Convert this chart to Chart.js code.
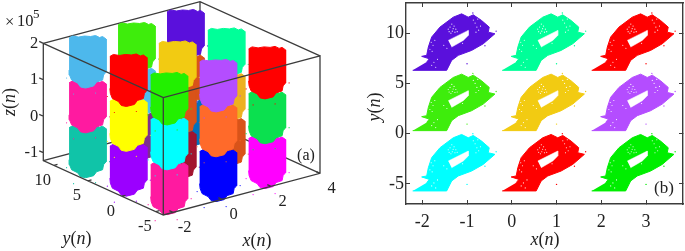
<!DOCTYPE html>
<html><head><meta charset="utf-8">
<style>
html,body{margin:0;padding:0;background:#fff;overflow:hidden}
canvas{position:absolute;top:0;filter:blur(.35px)}
#a{left:0}#b{left:345px}
</style>
<script src="https://cdn.jsdelivr.net/npm/chart.js@4/dist/chart.umd.min.js"></script>
</head><body>
<canvas id="a" width="345" height="251"></canvas>
<canvas id="b" width="340" height="251"></canvas>
<script>
// ---------- panel (b) data ----------
const xTicksB=[-2,-1,0,1,2,3];
const yTicksB=[-5,0,5,10];
const xLimB=[-2.364,3.826];
const yLimB=[-7,13];
const outlineX=[-2.215,-1.455,-1.344,-1.196,-0.898,-0.638,-0.377,-0.526,-0.504,-0.675,-0.861,-0.973,-1.121,-1.308,-1.605,-1.791,-1.865,-1.902,-2.014,-1.843,-1.902];
const outlineY=[6.30,6.30,7.29,7.79,8.28,8.94,9.94,10.1,10.6,11.26,11.82,11.59,11.92,11.59,10.6,9.61,8.61,7.79,7.69,7.45,7.12];
const holeX=[-1.419,-0.973,-0.973,-1.084,-1.344];
const holeY=[9.28,10.27,9.77,9.28,8.61];
const whiteX=[-1.42,-1.38,-1.33,-1.29,-1.25,-1.36,-1.31,-1.27,-1.40,-1.34,-1.22,-1.80,-1.76,-1.83,-1.78,-1.72,-1.74,-1.79,-1.70,-1.66,-0.82,-0.78,-0.74,-0.80,-0.70,-0.86,-0.76,-1.10,-1.52,-1.45];
const whiteY=[10.4,10.6,10.2,10.7,10.4,10.0,10.45,10.1,10.15,10.9,10.15,9.1,8.8,8.4,8.2,9.3,7.1,6.8,6.6,7.4,11.0,10.6,10.3,10.1,10.7,11.3,11.4,9.0,8.8,8.5];
const dotX=[-1.0,-0.35,-0.6,-0.87];
const dotY=[6.95,10.2,8.75,12.0];
const cellDX=[0,2,4,0,2,4,0,2,4];
const cellDY=[0,0,0,-6,-6,-6,-12,-12,-12];
const cellColors=['#5a10dc','#00ff99','#ff0000','#3eed0c','#f2cb12','#b44dff','#00ffff','#ff0000','#00ee00'];

// ---------- panel (a) data ----------
const xLimA=[-2.4,4];
const yLimA=[-6.1,11.55];
const zLimA=[-1.22,2];
const xTicksA=[-2,0,2,4];
const yTicksA=[-5,0,5,10];
const zTicksA=[-1,0,1,2];
const columnX=[2.7,0.7,-1.3];
const columnY=[9,3,-3];
const levelZ=[-0.9,0.33,1.56];
const colorsBot=['#0072bd','#7e2f8e','#10c4a8','#d95319','#a2142f','#9b00ff','#ff00ff','#0000ff','#ff1aa0'];
const colorsMid=['#d95319','#4dbeee','#ff1aa0','#edb120','#d95319','#ffff00','#0be04f','#ff6a2a','#00ffff'];
const colorsTop=['#5a10dc','#3eed0c','#4db8ec','#00ff99','#f2cb12','#ff0000','#ff0000','#b44dff','#22f000'];
const blobDX=[-18.5,-15,-9,-3,3,8,12,15,18.5,18.5,16,15,9,6,-2,-7,-10,-16,-18,-18.5];
const blobDY=[-22,-24,-23,-24,-23.5,-24.5,-22.5,-23.5,-21,12,15,20,22,26,28,27,23,20,15,10];
const speckDX=[22,-21,8,-14];
const speckDY=[12,18,33,34];

const FONT='"Liberation Serif"';
const LINE='#3c3c3c';
const W=[156.7/(xLimA[1]-xLimA[0]),-41.7/(xLimA[1]-xLimA[0])];
const V=[120/(yLimA[1]-yLimA[0]),54.3/(yLimA[1]-yLimA[0])];
const ZS=117.4/(zLimA[1]-zLimA[0]);
function proj(x,y,z){
  return {x:163.3+(x-xLimA[0])*W[0]-(y-yLimA[0])*V[0],
          y:215+(x-xLimA[0])*W[1]-(y-yLimA[0])*V[1]-(z-zLimA[0])*ZS};
}
function rich(ctx,segs,cx,cy,size,rot){
  ctx.save();ctx.translate(cx,cy);if(rot)ctx.rotate(rot);
  ctx.textBaseline='middle';ctx.textAlign='left';ctx.fillStyle='#222';
  let w=0;const fs=segs.map(s=>{const f=(s[1]?'italic ':'')+size+'px '+FONT;ctx.font=f;const m=ctx.measureText(s[0]).width;w+=m;return [s[0],f,m];});
  let p=-w/2;fs.forEach(s=>{ctx.font=s[1];ctx.fillText(s[0],p,0);p+=s[2];});
  ctx.restore();
}
const lab=c=>[[c,1],['(',0],['n',1],[')',0]];

// ---------- build panel (a) ----------
const dsA=[];let ord=1000;
const L=xLimA,Y=yLimA,Z=zLimA;
const seg=(pts)=>pts.map(p=>p===null?{x:NaN,y:NaN}:proj(p[0],p[1],p[2]));
const lineDs=(pts)=>({data:seg(pts),showLine:true,borderColor:LINE,borderWidth:1.3,pointRadius:0,spanGaps:false});
dsA.push(Object.assign(lineDs([
  [L[0],Y[1],Z[0]],[L[1],Y[1],Z[0]],[L[1],Y[0],Z[0]],null,
  [L[1],Y[1],Z[0]],[L[1],Y[1],Z[1]],null,
  [L[0],Y[1],Z[1]],[L[1],Y[1],Z[1]],[L[1],Y[0],Z[1]]
]),{order:ord--}));
const levels=[colorsBot,colorsMid,colorsTop];
columnY.forEach((yc,yi)=>columnX.forEach((xc,xi)=>levelZ.forEach((zc,zi)=>{
  const c=proj(xc,yc,zc);
  const col=levels[zi][yi*3+xi];
  dsA.push({data:speckDX.map((d,i)=>({x:c.x+d,y:c.y+speckDY[i]})),showLine:false,pointRadius:.6,pointBorderWidth:0,pointBackgroundColor:col,order:ord--});
  dsA.push({data:blobDX.map((d,i)=>({x:c.x+d,y:c.y+blobDY[i]})),showLine:true,fill:'shape',backgroundColor:col,borderColor:col,borderWidth:1,pointRadius:0,order:ord--});
})));
const tickPts=[];
xTicksA.forEach(t=>{tickPts.push([t,Y[0],Z[0]],[t,Y[0]+0.55,Z[0]],null);});
yTicksA.forEach(t=>{tickPts.push([L[0],t,Z[0]],[L[0]+0.15,t,Z[0]],null);});
zTicksA.forEach(t=>{tickPts.push([L[0],Y[1],t],[L[0],Y[1]+0.6,t],null);});
dsA.push(Object.assign(lineDs([
  [L[0],Y[1],Z[1]],[L[0],Y[1],Z[0]],[L[0],Y[0],Z[0]],[L[1],Y[0],Z[0]],[L[1],Y[0],Z[1]],[L[0],Y[0],Z[1]],[L[0],Y[1],Z[1]],null,
  [L[0],Y[0],Z[0]],[L[0],Y[0],Z[1]],null
].concat(tickPts)),{order:ord--}));

new Chart(document.getElementById('a'),{
  type:'scatter',
  data:{datasets:dsA},
  options:{responsive:false,animation:false,devicePixelRatio:1,
    layout:{padding:0,autoPadding:false},
    plugins:{legend:{display:false},tooltip:{enabled:false}},
    elements:{line:{tension:0}},
    scales:{x:{display:false,min:0,max:345},y:{display:false,min:0,max:251,reverse:true}}},
  plugins:[{id:'textA',afterDraw(ch){
    const ctx=ch.ctx,sx=ch.scales.x,sy=ch.scales.y;
    const px=(p,dx,dy)=>[sx.getPixelForValue(p.x)+dx,sy.getPixelForValue(p.y)+dy];
    ctx.save();ctx.fillStyle='#222';ctx.font='16.5px '+FONT;ctx.textBaseline='middle';ctx.textAlign='center';
    xTicksA.forEach(t=>{const q=px(proj(t,Y[0],Z[0]),11.5,15.6);ctx.fillText(String(t),q[0],q[1]);});
    yTicksA.forEach(t=>{const q=px(proj(L[0],t,Z[0]),-11,15);ctx.fillText(String(t),q[0],q[1]);});
    ctx.textAlign='right';
    zTicksA.forEach(t=>{const q=px(proj(L[0],Y[1],t),-5,0);ctx.fillText(String(t),q[0],q[1]);});
    ctx.textAlign='left';
    ctx.fillText('\u00d7',5,23);ctx.fillText('10',17,22);
    ctx.font='13px '+FONT;ctx.fillText('5',33,15);
    ctx.restore();
    rich(ctx,lab('z'),10,102,18,-Math.PI/2);
    rich(ctx,lab('y'),77,239,18);
    rich(ctx,lab('x'),257,241,18);
    rich(ctx,[['(a)',0]],306,156,16);
  }}]
});

// ---------- build panel (b) ----------
const dsB=[];
cellColors.forEach((col,i)=>{
  const dx=cellDX[i],dy=cellDY[i];
  dsB.push({data:whiteX.map((v,k)=>({x:v+dx,y:whiteY[k]+dy})),showLine:false,pointRadius:.55,pointBorderWidth:0,pointBackgroundColor:'#fff',order:1});
  dsB.push({data:holeX.map((v,k)=>({x:v+dx,y:holeY[k]+dy})),showLine:true,fill:'shape',backgroundColor:'#fff',borderColor:'#fff',borderWidth:.5,pointRadius:0,order:2});
  dsB.push({data:outlineX.map((v,k)=>({x:v+dx,y:outlineY[k]+dy})),showLine:true,fill:'shape',backgroundColor:col,borderColor:col,borderWidth:1,pointRadius:0,order:3});
  dsB.push({data:dotX.map((v,k)=>({x:v+dx,y:dotY[k]+dy})),showLine:false,pointRadius:.7,pointBorderWidth:0,pointBackgroundColor:col,order:4});
});
const setTicks=a=>s=>{s.ticks=a.map(v=>({value:v}));};
const noPad=s=>{s.paddingTop=0;s.paddingBottom=0;s.paddingLeft=0;s.paddingRight=0;if(s._margins){s._margins.top=0;s._margins.bottom=0;s._margins.left=0;s._margins.right=0;}};
const gridBase={drawOnChartArea:false,color:LINE,tickColor:LINE,tickLength:-4,lineWidth:1};
const bord={color:LINE,width:1.4};
new Chart(document.getElementById('b'),{
  type:'scatter',
  data:{datasets:dsB},
  options:{responsive:false,animation:false,devicePixelRatio:1,
    layout:{padding:{top:3,right:2,left:0,bottom:0},autoPadding:false},
    plugins:{legend:{display:false},tooltip:{enabled:false}},
    elements:{line:{tension:0}},
    scales:{
      x:{type:'linear',position:'bottom',min:xLimB[0],max:xLimB[1],afterBuildTicks:setTicks(xTicksB),afterFit:s=>{s.height=47;noPad(s);},
        grid:gridBase,border:bord,
        ticks:{font:{family:'Liberation Serif',size:18},color:'#222',padding:11,maxRotation:0,autoSkip:false,callback:v=>String(v)}},
      y:{type:'linear',position:'left',min:yLimB[0],max:yLimB[1],afterBuildTicks:setTicks(yTicksB),afterFit:s=>{s.width=61;noPad(s);},
        grid:gridBase,border:bord,
        ticks:{font:{family:'Liberation Serif',size:18},color:'#222',padding:6,autoSkip:false,callback:v=>String(v)}},
      x2:{type:'linear',position:'top',min:xLimB[0],max:xLimB[1],afterBuildTicks:setTicks(xTicksB),afterFit:s=>{s.height=0;noPad(s);},
        grid:gridBase,border:bord,ticks:{display:false}},
      y2:{type:'linear',position:'right',min:yLimB[0],max:yLimB[1],afterBuildTicks:setTicks(yTicksB),afterFit:s=>{s.width=0;noPad(s);},
        grid:gridBase,border:bord,ticks:{display:false}}
    }},
  plugins:[{id:'textB',afterDraw(ch){
    const ctx=ch.ctx;
    rich(ctx,lab('x'),200,240,18);
    rich(ctx,lab('y'),30,107,18,-Math.PI/2);
    rich(ctx,[['(b)',0]],319,189,17);
  }}]
});
</script>
</body></html>
